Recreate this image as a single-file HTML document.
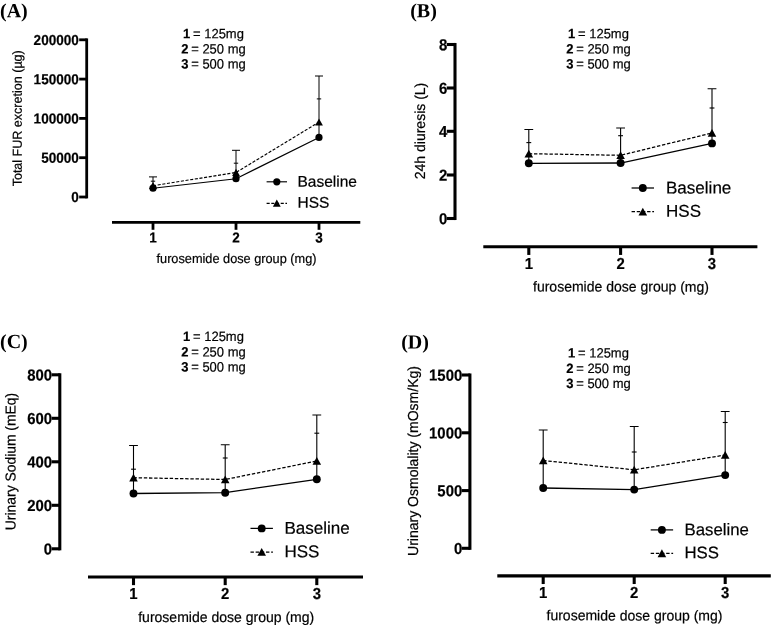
<!DOCTYPE html>
<html lang="en"><head><meta charset="utf-8"><title>Figure</title>
<style>
html,body{margin:0;padding:0;background:#fff;}
body{width:772px;height:625px;overflow:hidden;}
svg{display:block;}
text{font-family:"Liberation Sans",Arial,Helvetica,sans-serif;fill:#000;stroke:#000;stroke-width:0.2px;}
.pl{font-family:"Liberation Serif","Times New Roman",serif;font-weight:bold;font-size:20px;stroke:none;}
.b{font-weight:bold;}
path,polyline{stroke:#000;fill:none;}
.m{fill:#000;stroke:none;}
</style></head><body>
<svg width="772" height="625" viewBox="0 0 772 625">
<rect width="772" height="625" fill="#fff"/>
<g>
<g id="panelA">
<text class="pl" x="0" y="17.3" transform="rotate(0.03 0 17.3)">(A)</text>
<text transform="translate(213.5 38.3) rotate(0.03) scale(0.96 1)" font-size="13.54" text-anchor="middle"><tspan class="b">1</tspan><tspan dx="-1"> = 125mg</tspan></text>
<text transform="translate(213.5 53.5) rotate(0.03) scale(0.96 1)" font-size="13.54" text-anchor="middle"><tspan class="b">2</tspan><tspan dx="-1"> = 250 mg</tspan></text>
<text transform="translate(213.5 68.6) rotate(0.03) scale(0.96 1)" font-size="13.54" text-anchor="middle"><tspan class="b">3</tspan><tspan dx="-1"> = 500 mg</tspan></text>
<path d="M86.7 38.4 V198.4" stroke-width="2.8"/>
<path d="M79.2 39.8 H86.7" stroke-width="2.8"/>
<text class="b" transform="translate(78.8 44.92) rotate(0.03) scale(0.935 1)" font-size="14.49" text-anchor="end">200000</text>
<path d="M79.2 79.1 H86.7" stroke-width="2.8"/>
<text class="b" transform="translate(78.8 84.22) rotate(0.03) scale(0.935 1)" font-size="14.49" text-anchor="end">150000</text>
<path d="M79.2 118.4 H86.7" stroke-width="2.8"/>
<text class="b" transform="translate(78.8 123.52) rotate(0.03) scale(0.935 1)" font-size="14.49" text-anchor="end">100000</text>
<path d="M79.2 157.7 H86.7" stroke-width="2.8"/>
<text class="b" transform="translate(78.8 162.82) rotate(0.03) scale(0.935 1)" font-size="14.49" text-anchor="end">50000</text>
<path d="M79.2 197 H86.7" stroke-width="2.8"/>
<text class="b" transform="translate(78.8 202.12) rotate(0.03) scale(0.935 1)" font-size="14.49" text-anchor="end">0</text>
<text transform="translate(21.8 118.3) rotate(-89.97) scale(0.965 1)" font-size="13.01" text-anchor="middle">Total FUR excretion (µg)</text>
<path d="M112 222.4 H360.3" stroke-width="2.8"/>
<path d="M153 222.4 V229.8" stroke-width="2.8"/>
<text class="b" transform="translate(153 242.5) rotate(0.03) scale(0.935 1)" font-size="14.49" text-anchor="middle">1</text>
<path d="M236 222.4 V229.8" stroke-width="2.8"/>
<text class="b" transform="translate(236 242.5) rotate(0.03) scale(0.935 1)" font-size="14.49" text-anchor="middle">2</text>
<path d="M319 222.4 V229.8" stroke-width="2.8"/>
<text class="b" transform="translate(319 242.5) rotate(0.03) scale(0.935 1)" font-size="14.49" text-anchor="middle">3</text>
<text transform="translate(236.5 263) rotate(0.03) scale(0.965 1)" font-size="13.21" text-anchor="middle">furosemide dose group (mg)</text>
<path d="M153 188.2 V176.9 M149 176.9 H157" stroke-width="1"/>
<path d="M150.8 181.2 H155.2" stroke-width="1"/>
<path d="M236 178.7 V150.3 M232 150.3 H240" stroke-width="1"/>
<path d="M233.8 163.2 H238.2" stroke-width="1"/>
<path d="M319 137.4 V76 M315 76 H323" stroke-width="1"/>
<path d="M316.8 98.9 H321.2" stroke-width="1"/>
<polyline points="153,188.2 236,178.7 319,137.4" stroke-width="1.15"/>
<polyline points="153,185.7 236,172.5 319,122.1" stroke-width="1.15" stroke-dasharray="3.1 1.6"/>
<circle cx="153" cy="188.2" r="3.6"/>
<path class="m" d="M153 182 L156.9 189.1 L149.1 189.1 Z"/>
<circle cx="236" cy="178.7" r="3.6"/>
<path class="m" d="M236 168.8 L239.9 175.9 L232.1 175.9 Z"/>
<circle cx="319" cy="137.4" r="3.6"/>
<path class="m" d="M319 118.4 L322.9 125.5 L315.1 125.5 Z"/>
<path d="M266.6 181.8 H287" stroke-width="1.15"/>
<circle cx="276.8" cy="181.8" r="3.6"/>
<path d="M266.6 203.3 H287" stroke-width="1.15" stroke-dasharray="3.1 1.6"/>
<path class="m" d="M276.8 199.6 L280.7 206.7 L272.9 206.7 Z"/>
<text transform="translate(297.5 186.68) rotate(0.03) scale(1 1)" font-size="15.5">Baseline</text>
<text transform="translate(297.5 207.78) rotate(0.03) scale(1 1)" font-size="15.5">HSS</text>
</g>
<g id="panelB">
<text class="pl" x="410.2" y="17.3" transform="rotate(0.03 410.2 17.3)">(B)</text>
<text transform="translate(598.5 38.3) rotate(0.03) scale(0.96 1)" font-size="13.54" text-anchor="middle"><tspan class="b">1</tspan><tspan dx="-1"> = 125mg</tspan></text>
<text transform="translate(598.5 53.5) rotate(0.03) scale(0.96 1)" font-size="13.54" text-anchor="middle"><tspan class="b">2</tspan><tspan dx="-1"> = 250 mg</tspan></text>
<text transform="translate(598.5 68.6) rotate(0.03) scale(0.96 1)" font-size="13.54" text-anchor="middle"><tspan class="b">3</tspan><tspan dx="-1"> = 500 mg</tspan></text>
<path d="M455 42.96 V220.04" stroke-width="3.08"/>
<path d="M446.75 44.5 H455" stroke-width="3.08"/>
<text class="b" transform="translate(447.3 50.14) rotate(0.03) scale(0.935 1)" font-size="15.94" text-anchor="end">8</text>
<path d="M446.75 88 H455" stroke-width="3.08"/>
<text class="b" transform="translate(447.3 93.64) rotate(0.03) scale(0.935 1)" font-size="15.94" text-anchor="end">6</text>
<path d="M446.75 131.3 H455" stroke-width="3.08"/>
<text class="b" transform="translate(447.3 136.94) rotate(0.03) scale(0.935 1)" font-size="15.94" text-anchor="end">4</text>
<path d="M446.75 175 H455" stroke-width="3.08"/>
<text class="b" transform="translate(447.3 180.64) rotate(0.03) scale(0.935 1)" font-size="15.94" text-anchor="end">2</text>
<path d="M446.75 218.5 H455" stroke-width="3.08"/>
<text class="b" transform="translate(447.3 224.14) rotate(0.03) scale(0.935 1)" font-size="15.94" text-anchor="end">0</text>
<text transform="translate(425 131) rotate(-89.97) scale(0.965 1)" font-size="14.53" text-anchor="middle">24h diuresis (L)</text>
<path d="M483.3 246.8 H757.4" stroke-width="3.08"/>
<path d="M528.8 246.8 V254.94" stroke-width="3.08"/>
<text class="b" transform="translate(528.8 268.91) rotate(0.03) scale(0.935 1)" font-size="15.94" text-anchor="middle">1</text>
<path d="M620.6 246.8 V254.94" stroke-width="3.08"/>
<text class="b" transform="translate(620.6 268.91) rotate(0.03) scale(0.935 1)" font-size="15.94" text-anchor="middle">2</text>
<path d="M712 246.8 V254.94" stroke-width="3.08"/>
<text class="b" transform="translate(712 268.91) rotate(0.03) scale(0.935 1)" font-size="15.94" text-anchor="middle">3</text>
<text transform="translate(621 291.6) rotate(0.03) scale(0.965 1)" font-size="14.53" text-anchor="middle">furosemide dose group (mg)</text>
<path d="M528.8 163.3 V129.5 M524.4 129.5 H533.2" stroke-width="1.1"/>
<path d="M526.38 142.6 H531.22" stroke-width="1.1"/>
<path d="M620.6 163 V128 M616.2 128 H625" stroke-width="1.1"/>
<path d="M618.18 135.7 H623.02" stroke-width="1.1"/>
<path d="M712 143.4 V88.8 M707.6 88.8 H716.4" stroke-width="1.1"/>
<path d="M709.58 108 H714.42" stroke-width="1.1"/>
<polyline points="528.8,163.3 620.6,163 712,143.4" stroke-width="1.26"/>
<polyline points="528.8,153.7 620.6,155.3 712,133" stroke-width="1.26" stroke-dasharray="3.41 1.76"/>
<circle cx="528.8" cy="163.3" r="3.96"/>
<path class="m" d="M528.8 149.63 L533.09 157.44 L524.51 157.44 Z"/>
<circle cx="620.6" cy="163" r="3.96"/>
<path class="m" d="M620.6 151.23 L624.89 159.04 L616.31 159.04 Z"/>
<circle cx="712" cy="143.4" r="3.96"/>
<path class="m" d="M712 128.93 L716.29 136.74 L707.71 136.74 Z"/>
<path d="M631.58 188 H654.02" stroke-width="1.26"/>
<circle cx="642.8" cy="188" r="3.96"/>
<path d="M631.58 211.7 H654.02" stroke-width="1.26" stroke-dasharray="3.41 1.76"/>
<path class="m" d="M642.8 207.63 L647.09 215.44 L638.51 215.44 Z"/>
<text transform="translate(666 193.44) rotate(0.03) scale(1 1)" font-size="17.05">Baseline</text>
<text transform="translate(666 216.74) rotate(0.03) scale(1 1)" font-size="17.05">HSS</text>
</g>
<g id="panelC">
<text class="pl" x="0" y="348" transform="rotate(0.03 0 348)">(C)</text>
<text transform="translate(213.5 341) rotate(0.03) scale(0.96 1)" font-size="13.54" text-anchor="middle"><tspan class="b">1</tspan><tspan dx="-1"> = 125mg</tspan></text>
<text transform="translate(213.5 356.5) rotate(0.03) scale(0.96 1)" font-size="13.54" text-anchor="middle"><tspan class="b">2</tspan><tspan dx="-1"> = 250 mg</tspan></text>
<text transform="translate(213.5 371.5) rotate(0.03) scale(0.96 1)" font-size="13.54" text-anchor="middle"><tspan class="b">3</tspan><tspan dx="-1"> = 500 mg</tspan></text>
<path d="M59.8 373.26 V550.34" stroke-width="3.08"/>
<path d="M51.55 374.8 H59.8" stroke-width="3.08"/>
<text class="b" transform="translate(52.1 380.44) rotate(0.03) scale(0.935 1)" font-size="15.94" text-anchor="end">800</text>
<path d="M51.55 418.3 H59.8" stroke-width="3.08"/>
<text class="b" transform="translate(52.1 423.94) rotate(0.03) scale(0.935 1)" font-size="15.94" text-anchor="end">600</text>
<path d="M51.55 461.8 H59.8" stroke-width="3.08"/>
<text class="b" transform="translate(52.1 467.44) rotate(0.03) scale(0.935 1)" font-size="15.94" text-anchor="end">400</text>
<path d="M51.55 505.3 H59.8" stroke-width="3.08"/>
<text class="b" transform="translate(52.1 510.94) rotate(0.03) scale(0.935 1)" font-size="15.94" text-anchor="end">200</text>
<path d="M51.55 548.8 H59.8" stroke-width="3.08"/>
<text class="b" transform="translate(52.1 554.44) rotate(0.03) scale(0.935 1)" font-size="15.94" text-anchor="end">0</text>
<text transform="translate(15.5 461.5) rotate(-89.97) scale(0.965 1)" font-size="14.4" text-anchor="middle">Urinary Sodium (mEq)</text>
<path d="M88 577 H363" stroke-width="3.08"/>
<path d="M133.5 577 V585.14" stroke-width="3.08"/>
<text class="b" transform="translate(133.5 599.11) rotate(0.03) scale(0.935 1)" font-size="15.94" text-anchor="middle">1</text>
<path d="M225.2 577 V585.14" stroke-width="3.08"/>
<text class="b" transform="translate(225.2 599.11) rotate(0.03) scale(0.935 1)" font-size="15.94" text-anchor="middle">2</text>
<path d="M316.8 577 V585.14" stroke-width="3.08"/>
<text class="b" transform="translate(316.8 599.11) rotate(0.03) scale(0.935 1)" font-size="15.94" text-anchor="middle">3</text>
<text transform="translate(226.2 622) rotate(0.03) scale(0.965 1)" font-size="14.53" text-anchor="middle">furosemide dose group (mg)</text>
<path d="M133.5 493.5 V445.5 M129.1 445.5 H137.9" stroke-width="1.1"/>
<path d="M131.08 469.2 H135.92" stroke-width="1.1"/>
<path d="M225.2 492.7 V444.7 M220.8 444.7 H229.6" stroke-width="1.1"/>
<path d="M222.78 458 H227.62" stroke-width="1.1"/>
<path d="M316.8 479.3 V415 M312.4 415 H321.2" stroke-width="1.1"/>
<path d="M314.38 433.2 H319.22" stroke-width="1.1"/>
<polyline points="133.5,493.5 225.2,492.7 316.8,479.3" stroke-width="1.26"/>
<polyline points="133.5,477.7 225.2,479.5 316.8,461" stroke-width="1.26" stroke-dasharray="3.41 1.76"/>
<circle cx="133.5" cy="493.5" r="3.96"/>
<path class="m" d="M133.5 473.63 L137.79 481.44 L129.21 481.44 Z"/>
<circle cx="225.2" cy="492.7" r="3.96"/>
<path class="m" d="M225.2 475.43 L229.49 483.24 L220.91 483.24 Z"/>
<circle cx="316.8" cy="479.3" r="3.96"/>
<path class="m" d="M316.8 456.93 L321.09 464.74 L312.51 464.74 Z"/>
<path d="M250.48 528.4 H272.92" stroke-width="1.26"/>
<circle cx="261.7" cy="528.4" r="3.96"/>
<path d="M250.48 552.1 H272.92" stroke-width="1.26" stroke-dasharray="3.41 1.76"/>
<path class="m" d="M261.7 548.03 L265.99 555.84 L257.41 555.84 Z"/>
<text transform="translate(284.4 533.84) rotate(0.03) scale(1 1)" font-size="17.05">Baseline</text>
<text transform="translate(284.4 557.14) rotate(0.03) scale(1 1)" font-size="17.05">HSS</text>
</g>
<g id="panelD">
<text class="pl" x="401.2" y="348.6" transform="rotate(0.03 401.2 348.6)">(D)</text>
<text transform="translate(598.5 357.6) rotate(0.03) scale(0.96 1)" font-size="13.54" text-anchor="middle"><tspan class="b">1</tspan><tspan dx="-1"> = 125mg</tspan></text>
<text transform="translate(598.5 373.1) rotate(0.03) scale(0.96 1)" font-size="13.54" text-anchor="middle"><tspan class="b">2</tspan><tspan dx="-1"> = 250 mg</tspan></text>
<text transform="translate(598.5 388.1) rotate(0.03) scale(0.96 1)" font-size="13.54" text-anchor="middle"><tspan class="b">3</tspan><tspan dx="-1"> = 500 mg</tspan></text>
<path d="M469.9 373.46 V549.84" stroke-width="3.08"/>
<path d="M461.65 375 H469.9" stroke-width="3.08"/>
<text class="b" transform="translate(462.2 380.64) rotate(0.03) scale(0.935 1)" font-size="15.94" text-anchor="end">1500</text>
<path d="M461.65 432.8 H469.9" stroke-width="3.08"/>
<text class="b" transform="translate(462.2 438.44) rotate(0.03) scale(0.935 1)" font-size="15.94" text-anchor="end">1000</text>
<path d="M461.65 490.6 H469.9" stroke-width="3.08"/>
<text class="b" transform="translate(462.2 496.24) rotate(0.03) scale(0.935 1)" font-size="15.94" text-anchor="end">500</text>
<path d="M461.65 548.3 H469.9" stroke-width="3.08"/>
<text class="b" transform="translate(462.2 553.94) rotate(0.03) scale(0.935 1)" font-size="15.94" text-anchor="end">0</text>
<text transform="translate(418 461) rotate(-89.97) scale(0.965 1)" font-size="14.53" text-anchor="middle">Urinary Osmolality (mOsm/Kg)</text>
<path d="M497.3 575.9 H770.8" stroke-width="3.08"/>
<path d="M543.2 575.9 V584.04" stroke-width="3.08"/>
<text class="b" transform="translate(543.2 598.01) rotate(0.03) scale(0.935 1)" font-size="15.94" text-anchor="middle">1</text>
<path d="M634.2 575.9 V584.04" stroke-width="3.08"/>
<text class="b" transform="translate(634.2 598.01) rotate(0.03) scale(0.935 1)" font-size="15.94" text-anchor="middle">2</text>
<path d="M725.2 575.9 V584.04" stroke-width="3.08"/>
<text class="b" transform="translate(725.2 598.01) rotate(0.03) scale(0.935 1)" font-size="15.94" text-anchor="middle">3</text>
<text transform="translate(634.5 620.4) rotate(0.03) scale(0.965 1)" font-size="14.53" text-anchor="middle">furosemide dose group (mg)</text>
<path d="M543.2 488 V430 M538.8 430 H547.6" stroke-width="1.1"/>
<path d="M634.2 489.6 V426.5 M629.8 426.5 H638.6" stroke-width="1.1"/>
<path d="M631.78 452 H636.62" stroke-width="1.1"/>
<path d="M725.2 475.1 V411.5 M720.8 411.5 H729.6" stroke-width="1.1"/>
<path d="M722.78 422.5 H727.62" stroke-width="1.1"/>
<polyline points="543.2,488 634.2,489.6 725.2,475.1" stroke-width="1.26"/>
<polyline points="543.2,460.5 634.2,469.8 725.2,455" stroke-width="1.26" stroke-dasharray="3.41 1.76"/>
<circle cx="543.2" cy="488" r="3.96"/>
<path class="m" d="M543.2 456.43 L547.49 464.24 L538.91 464.24 Z"/>
<circle cx="634.2" cy="489.6" r="3.96"/>
<path class="m" d="M634.2 465.73 L638.49 473.54 L629.91 473.54 Z"/>
<circle cx="725.2" cy="475.1" r="3.96"/>
<path class="m" d="M725.2 450.93 L729.49 458.74 L720.91 458.74 Z"/>
<path d="M650.68 529.9 H673.12" stroke-width="1.26"/>
<circle cx="661.9" cy="529.9" r="3.96"/>
<path d="M650.68 553.4 H673.12" stroke-width="1.26" stroke-dasharray="3.41 1.76"/>
<path class="m" d="M661.9 549.33 L666.19 557.14 L657.61 557.14 Z"/>
<text transform="translate(684.5 535.25) rotate(0.03) scale(1 1)" font-size="16.8">Baseline</text>
<text transform="translate(684.5 558.35) rotate(0.03) scale(1 1)" font-size="16.8">HSS</text>
</g>
</g></svg></body></html>
